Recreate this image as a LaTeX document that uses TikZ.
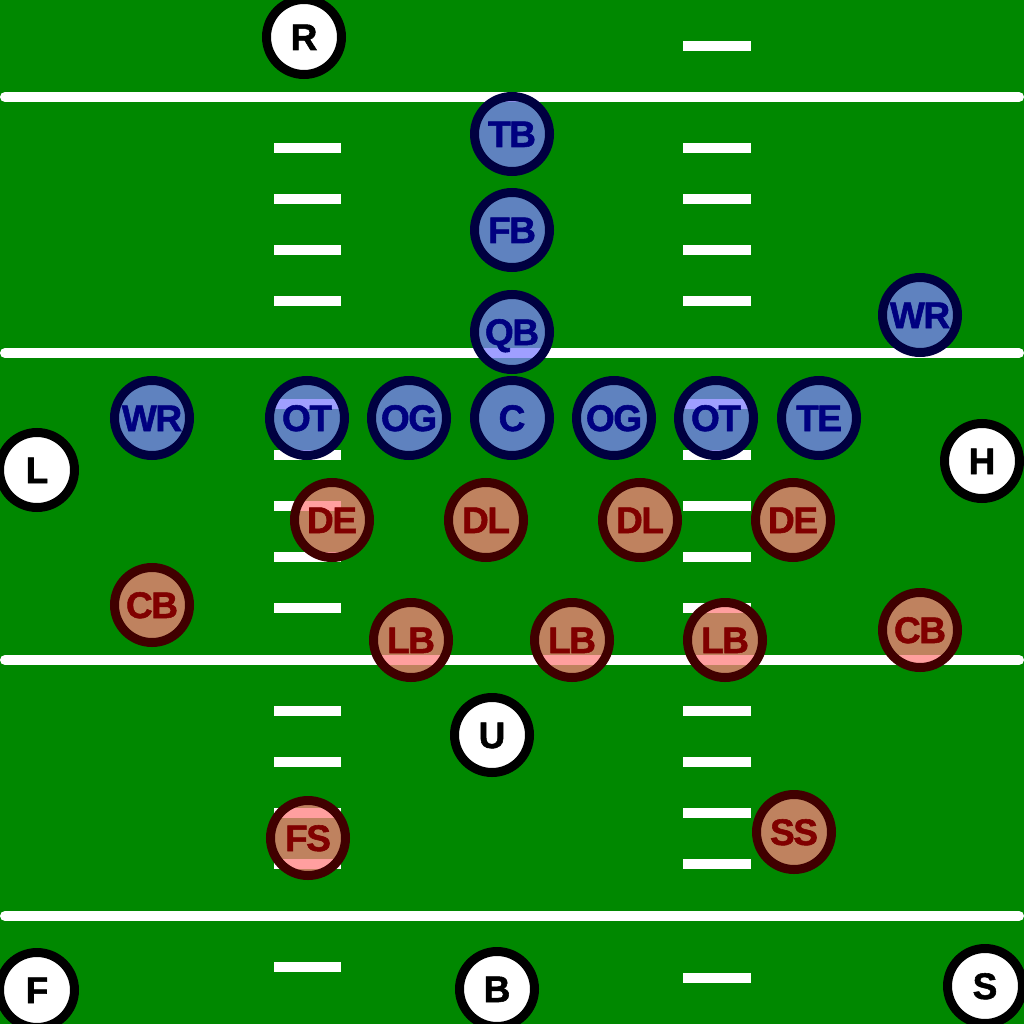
\documentclass[tikz,border=0pt]{standalone}
\usepackage{fontspec}
\setmainfont{Liberation Sans}
\newfontfamily\labelfont{Liberation Sans}[BoldFeatures={FakeBold=1.5},LetterSpace=-4]
\definecolor{field}{RGB}{0,136,0}
\definecolor{offfill}{RGB}{128,128,255}
\definecolor{offline}{RGB}{0,0,64}
\definecolor{offtext}{RGB}{0,0,128}
\definecolor{deffill}{RGB}{255,128,128}
\definecolor{defline}{RGB}{64,0,0}
\definecolor{deftext}{RGB}{128,0,0}

\begin{document}
\begin{tikzpicture}[x=1pt,y=-1pt,
    player/.style={circle,minimum size=75pt,inner sep=0pt,line width=9pt,
      text height=26pt,text depth=0pt,font=\fontsize{37}{37}\labelfont\bfseries},
    offense/.style={player,draw=offline,fill=offfill,fill opacity=0.75,text opacity=1,text=offtext},
    defense/.style={player,draw=defline,fill=deffill,fill opacity=0.75,text opacity=1,text=deftext},
    zone/.style={player,draw=black,fill=white,text=black},
    yardline/.style={white,line width=10pt,line cap=round}]
    \clip (0,0) rectangle (1024,1024);
    \fill[field] (0,0) rectangle (1024,1024);
    \foreach \y in {97,353,660,916}
      \draw[yardline] (5,\y) -- (1019,\y);
    \foreach \y in {148,199,250,301,404,455,506,557,608,711,762,813,864,967}
      \fill[white] (274,\y-5) rectangle (341,\y+5);
    \foreach \y in {46,148,199,250,301,404,455,506,557,608,711,762,813,864,978}
      \fill[white] (683,\y-5) rectangle (751,\y+5);
    \node[offense] (tb) at (512,134) {TB};
    \node[offense] (fb) at (512,230) {FB};
    \node[offense] (qb) at (512,332) {QB};
    \node[offense] (wrr) at (920,315) {WR};
    \node[offense] (wrl) at (152,418) {WR};
    \node[offense] (otl) at (307,418) {OT};
    \node[offense] (ogl) at (409,418) {OG};
    \node[offense] (c) at (512,418) {C};
    \node[offense] (ogr) at (614,418) {OG};
    \node[offense] (otr) at (716,418) {OT};
    \node[offense] (te) at (819,418) {TE};
    \node[defense] (del) at (332,520) {DE};
    \node[defense] (dll) at (486,520) {DL};
    \node[defense] (dlr) at (640,520) {DL};
    \node[defense] (der) at (793,520) {DE};
    \node[defense] (cbl) at (152,605) {CB};
    \node[defense] (cbr) at (920,630) {CB};
    \node[defense] (lbl) at (411,640) {LB};
    \node[defense] (lbm) at (572,640) {LB};
    \node[defense] (lbr) at (725,640) {LB};
    \node[defense] (fs) at (308,838) {FS};
    \node[defense] (ss) at (794,832) {SS};
    \node[zone] (r) at (304,37) {R};
    \node[zone] (l) at (37,470) {L};
    \node[zone] (h) at (982,461) {H};
    \node[zone] (u) at (492,735) {U};
    \node[zone] (f) at (37,990) {F};
    \node[zone] (b) at (497,989) {B};
    \node[zone] (s) at (985,986) {S};
  \end{tikzpicture}
\end{document}
